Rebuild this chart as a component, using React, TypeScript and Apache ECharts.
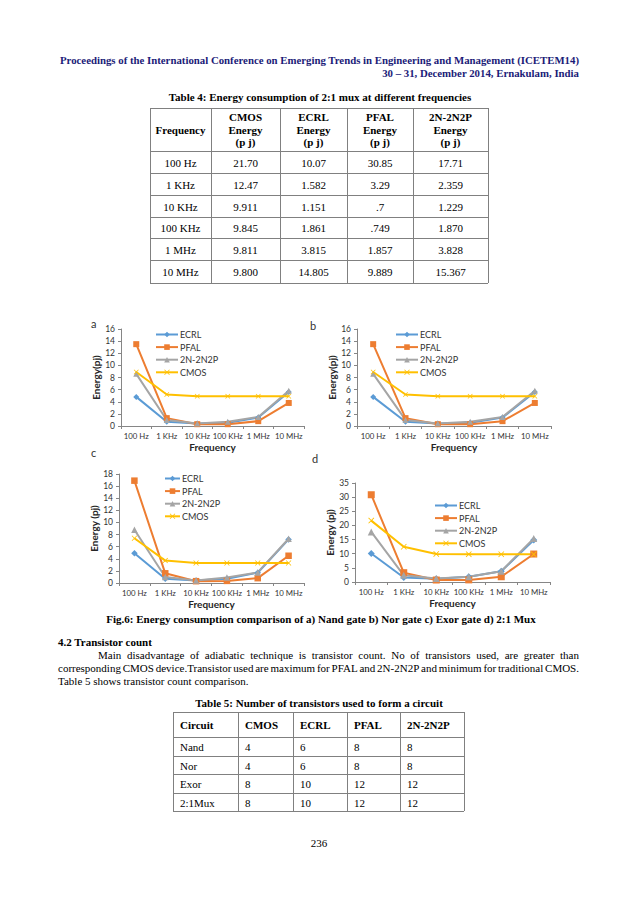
import React, { useEffect, useRef } from 'react';
import * as echarts from 'echarts';

// ---------- data ----------
const categories = ['100 Hz', '1 KHz', '10 KHz', '100 KHz', '1 MHz', '10 MHz'];
const seriesNames = ['ECRL', 'PFAL', '2N-2N2P', 'CMOS'];

// a) Nand gate
const nandECRL = [4.8, 0.7, 0.4, 0.55, 1.4, 5.6];
const nandPFAL = [13.5, 1.3, 0.3, 0.3, 0.8, 3.8];
const nandN2 = [8.6, 1.0, 0.4, 0.7, 1.5, 5.8];
const nandCMOS = [8.9, 5.2, 4.9, 4.9, 4.9, 4.9];
// b) Nor gate
const norECRL = [4.8, 0.7, 0.4, 0.55, 1.4, 5.6];
const norPFAL = [13.5, 1.3, 0.3, 0.3, 0.8, 3.8];
const norN2 = [8.6, 1.0, 0.4, 0.7, 1.5, 5.8];
const norCMOS = [8.9, 5.2, 4.9, 4.9, 4.9, 4.9];
// c) Exor gate
const exorECRL = [4.9, 0.7, 0.4, 0.7, 1.7, 7.2];
const exorPFAL = [16.9, 1.6, 0.3, 0.35, 0.8, 4.5];
const exorN2 = [8.8, 1.0, 0.4, 0.9, 1.75, 7.3];
const exorCMOS = [7.4, 3.7, 3.3, 3.3, 3.3, 3.3];

// Table 4 (2:1 mux energies, p j) - also drives chart d
const t4Freq = ['100 Hz', '1 KHz', '10 KHz', '100 KHz', '1 MHz', '10 MHz'];
const t4CMOS = ['21.70', '12.47', '9.911', '9.845', '9.811', '9.800'];
const t4ECRL = ['10.07', '1.582', '1.151', '1.861', '3.815', '14.805'];
const t4PFAL = ['30.85', '3.29', '.7', '.749', '1.857', '9.889'];
const t4N2 = ['17.71', '2.359', '1.229', '1.870', '3.828', '15.367'];

// Table 5 (transistor counts)
const t5Header = ['Circuit', 'CMOS', 'ECRL', 'PFAL', '2N-2N2P'];
const t5Circuit = ['Nand', 'Nor', 'Exor', '2:1Mux'];
const t5CMOS = [4, 4, 8, 8];
const t5ECRL = [6, 6, 10, 10];
const t5PFAL = [8, 8, 12, 12];
const t5N2 = [8, 8, 12, 12];

// ---------- styles ----------
const COLORS = ['#5B9BD5', '#ED7D31', '#A5A5A5', '#FFC000'];
const XSYM = 'path://M1,0L5,4L9,0L10,1L6,5L10,9L9,10L5,6L1,10L0,9L4,5L0,1Z';
const SYMBOLS = ['diamond', 'rect', 'triangle', XSYM];
const SERIF = '"Liberation Serif", "Times New Roman", serif';
const SANS = 'Lato, "Open Sans", sans-serif';

let measureCtx: CanvasRenderingContext2D | null = null;
function textWidth(t: string, font: string) {
  if (!measureCtx) measureCtx = document.createElement('canvas').getContext('2d');
  measureCtx!.font = font;
  return measureCtx!.measureText(t).width;
}

function txt(text: string, x: number, y: number, opts: any = {}) {
  return {
    type: 'text',
    silent: true,
    style: {
      text,
      x,
      y,
      font: opts.font || `11px ${SERIF}`,
      fill: opts.fill || '#000',
      textAlign: opts.align || 'left',
      textVerticalAlign: 'middle',
      verticalAlign: 'middle',
    },
  };
}

function hline(x1: number, x2: number, y: number) {
  return { type: 'line', silent: true, shape: { x1, y1: y, x2, y2: y }, style: { stroke: '#808080', lineWidth: 1 } };
}
function vline(x: number, y1: number, y2: number) {
  return { type: 'line', silent: true, shape: { x1: x, y1, x2: x, y2 }, style: { stroke: '#808080', lineWidth: 1 } };
}

function justified(line: string, x0: number, x1: number, y: number, font: string) {
  const words = line.split(' ');
  const widths = words.map((w) => textWidth(w, font));
  const total = widths.reduce((a, b) => a + b, 0);
  const gap = (x1 - x0 - total) / (words.length - 1);
  const out: any[] = [];
  let x = x0;
  words.forEach((w, i) => {
    out.push(txt(w, x, y, { font }));
    x += widths[i] + gap;
  });
  return out;
}

export default function App() {
  const ref = useRef<HTMLDivElement>(null);
  useEffect(() => {
    const chart = echarts.init(ref.current!, null, { renderer: 'svg' });

    const muxECRL = t4ECRL.map(parseFloat);
    const muxPFAL = t4PFAL.map(parseFloat);
    const muxN2 = t4N2.map(parseFloat);
    const muxCMOS = t4CMOS.map(parseFloat);

    const panels = [
      { letter: 'a', lx: 91, ly: 323, left: 121, top: 329, width: 183, height: 97, max: 16, interval: 2, yName: 'Energy(pj)', data: [nandECRL, nandPFAL, nandN2, nandCMOS], legend: { left: 155, top: 330, w: 22 }, sym: 6 },
      { letter: 'b', lx: 310, ly: 325, left: 357, top: 329, width: 194, height: 97, max: 16, interval: 2, yName: 'Energy(pj)', data: [norECRL, norPFAL, norN2, norCMOS], legend: { left: 395, top: 330, w: 22 }, sym: 6 },
      { letter: 'c', lx: 91, ly: 452, left: 119, top: 474, width: 185, height: 109, max: 18, interval: 2, yName: 'Energy (pj)', data: [exorECRL, exorPFAL, exorN2, exorCMOS], legend: { left: 164, top: 474, w: 15 }, sym: 6.5 },
      { letter: 'd', lx: 312, ly: 458, left: 355, top: 483, width: 195, height: 99, max: 35, interval: 5, yName: 'Energy (pj)', data: [muxECRL, muxPFAL, muxN2, muxCMOS], legend: { left: 434, top: 501, w: 22 }, sym: 7 },
    ];

    const axisColor = '#868686';
    const labelColor = '#333333';

    const grid = panels.map((p) => ({ left: p.left, top: p.top, width: p.width, height: p.height, containLabel: false }));
    const xAxis = panels.map((p, i) => ({
      type: 'category',
      gridIndex: i,
      data: categories,
      boundaryGap: true,
      axisLine: { show: true, lineStyle: { color: axisColor, width: 1 } },
      axisTick: { show: true, length: 3, lineStyle: { color: axisColor } },
      axisLabel: { interval: 0, fontSize: 7.8, color: labelColor, margin: 6, fontFamily: SANS },
      name: 'Frequency',
      nameLocation: 'middle',
      nameGap: 16,
      nameTextStyle: { fontWeight: 'bold', fontSize: 10, color: '#262626', fontFamily: SANS },
      splitLine: { show: false },
    }));
    const yAxis = panels.map((p, i) => ({
      type: 'value',
      gridIndex: i,
      min: 0,
      max: p.max,
      interval: p.interval,
      axisLine: { show: true, lineStyle: { color: axisColor, width: 1 } },
      axisTick: { show: true, length: 3, lineStyle: { color: axisColor } },
      axisLabel: { fontSize: 8.5, color: labelColor, margin: 6, fontFamily: SANS },
      splitLine: { show: false },
      name: p.yName,
      nameLocation: 'middle',
      nameRotate: 90,
      nameGap: 19,
      nameTextStyle: { fontWeight: 'bold', fontSize: 10, color: '#262626', fontFamily: SANS },
    }));

    const series: any[] = [];
    panels.forEach((p, i) => {
      p.data.forEach((vals, s) => {
        series.push({
          type: 'line',
          name: seriesNames[s],
          xAxisIndex: i,
          yAxisIndex: i,
          data: vals,
          symbol: SYMBOLS[s],
          symbolSize: s === 3 ? p.sym - 1 : p.sym,
          showAllSymbol: true,
          itemStyle: { color: COLORS[s] },
          lineStyle: { color: COLORS[s], width: 2 },
          emphasis: { disabled: true },
        });
      });
    });

    const legend = panels.map((p) => ({
      data: seriesNames,
      orient: 'vertical',
      left: p.legend.left,
      top: p.legend.top,
      itemWidth: p.legend.w,
      itemHeight: 7,
      itemGap: 3.6,
      padding: 0,
      selectedMode: false,
      textStyle: { fontSize: 9, color: '#333', fontFamily: SANS, padding: [0, 0, 0, -3] },
    }));

    // ---------- page graphics ----------
    const g: any[] = [];
    const hdrFont = `bold 10.8px ${SERIF}`;
    g.push(txt('Proceedings of the International Conference on Emerging Trends in Engineering and Management (ICETEM14)', 579, 60, { font: hdrFont, fill: '#1B1B78', align: 'right' }));
    g.push(txt('30 \u2013 31, December 2014, Ernakulam, India', 579, 73, { font: hdrFont, fill: '#1B1B78', align: 'right' }));

    // Table 4
    g.push(txt('Table 4: Energy consumption of 2:1 mux at different frequencies', 320, 97, { font: `bold 11px ${SERIF}`, align: 'center' }));
    const c4 = [150, 211, 280, 347, 413, 488];
    const r4 = [108, 151, 173, 195, 217, 238, 260, 283];
    r4.forEach((y) => g.push(hline(c4[0], c4[5], y + 0.5)));
    c4.forEach((x) => g.push(vline(x + 0.5, r4[0], r4[7])));
    const bold11 = `bold 11px ${SERIF}`;
    const reg11 = `11px ${SERIF}`;
    const mid = (i: number) => (c4[i] + c4[i + 1]) / 2;
    g.push(txt('Frequency', mid(0), 129.5, { font: bold11, align: 'center' }));
    ['CMOS', 'ECRL', 'PFAL', '2N-2N2P'].forEach((h, k) => {
      g.push(txt(h, mid(k + 1), 117, { font: bold11, align: 'center' }));
      g.push(txt('Energy', mid(k + 1), 129.5, { font: bold11, align: 'center' }));
      g.push(txt('(p j)', mid(k + 1), 142, { font: bold11, align: 'center' }));
    });
    const t4cols = [t4Freq, t4CMOS, t4ECRL, t4PFAL, t4N2];
    t4Freq.forEach((_, r) => {
      const y = (r4[r + 1] + r4[r + 2]) / 2 + 0.5;
      t4cols.forEach((col, k) => g.push(txt(col[r], mid(k), y, { font: reg11, align: 'center' })));
    });

    // Figure caption & section text
    g.push(txt('Fig.6: Energy consumption comparison of a) Nand gate b) Nor gate c) Exor gate d) 2:1 Mux', 321, 619, { font: bold11, align: 'center' }));
    g.push(txt('4.2 Transistor count', 58, 642, { font: bold11 }));
    g.push(...justified('Main disadvantage of adiabatic technique is transistor count. No of transistors used, are greater than', 98, 579, 655, reg11));
    g.push(...justified('corresponding CMOS device.Transistor used are maximum for PFAL and 2N-2N2P and minimum for traditional CMOS.', 58, 579, 668, reg11));
    g.push(txt('Table 5 shows transistor count comparison.', 58, 681, { font: reg11 }));

    // Table 5
    g.push(txt('Table 5: Number of transistors used to form a circuit', 319, 703, { font: bold11, align: 'center' }));
    const c5 = [173, 238, 293, 347, 400, 464];
    const r5 = [712, 737, 756, 774, 793, 811];
    r5.forEach((y) => g.push(hline(c5[0], c5[5], y + 0.5)));
    c5.forEach((x) => g.push(vline(x + 0.5, r5[0], r5[5])));
    t5Header.forEach((h, k) => g.push(txt(h, c5[k] + 7, (r5[0] + r5[1]) / 2 + 0.5, { font: bold11 })));
    const t5cols = [t5Circuit, t5CMOS, t5ECRL, t5PFAL, t5N2];
    t5Circuit.forEach((_, r) => {
      const y = (r5[r + 1] + r5[r + 2]) / 2 + 0.5;
      t5cols.forEach((col, k) => g.push(txt(String(col[r]), c5[k] + 7, y, { font: reg11 })));
    });

    g.push(txt('236', 319, 843, { font: reg11, align: 'center' }));

    // panel letters
    panels.forEach((p) => g.push(txt(p.letter, p.lx, p.ly, { font: `11px ${SANS}`, fill: '#333' })));

    chart.setOption({
      animation: false,
      backgroundColor: '#ffffff',
      grid,
      xAxis,
      yAxis,
      series,
      legend,
      graphic: { elements: g },
    });

    return () => chart.dispose();
  }, []);

  return (
    <div
      ref={ref}
      style={{ position: 'absolute', left: 0, top: 0, width: 638, height: 903, background: '#fff' }}
    />
  );
}
